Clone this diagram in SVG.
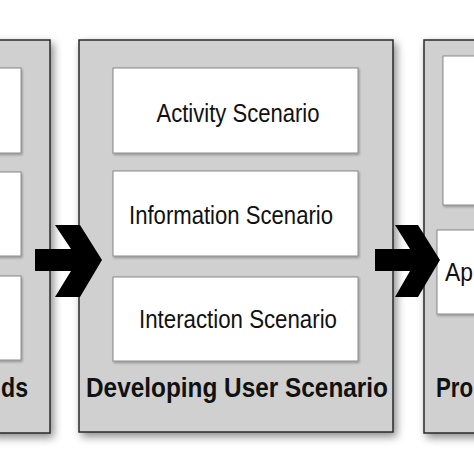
<svg xmlns="http://www.w3.org/2000/svg" width="474" height="474" viewBox="0 0 474 474">
<defs>
<filter id="sh" x="-20%" y="-20%" width="140%" height="140%">
<feDropShadow dx="3" dy="4" stdDeviation="4" flood-color="#000" flood-opacity="0.45"/>
</filter>
<filter id="sh2" x="-20%" y="-20%" width="140%" height="140%">
<feDropShadow dx="1" dy="1.5" stdDeviation="1" flood-color="#000" flood-opacity="0.3"/>
</filter>
</defs>
<style>
.panel{fill:#d0d0d0;stroke:#2a2a2a;stroke-width:1.5;filter:url(#sh)}
.box{fill:#fff;stroke:#8a8a8a;stroke-width:1;filter:url(#sh2)}
.t{font-family:"Liberation Sans",Arial,sans-serif;font-size:25px;fill:#111;text-anchor:middle}
.b{font-family:"Liberation Sans",Arial,sans-serif;font-size:28px;font-weight:bold;fill:#111;text-anchor:middle}
.arrow{fill:#000}
</style>
<rect width="474" height="474" fill="#fff"/>
<g id="panel-left">
<rect class="panel" x="-10" y="40" width="60" height="393"/>
<rect class="box" x="-10" y="68" width="31" height="85"/>
<rect class="box" x="-10" y="172" width="31" height="84"/>
<rect class="box" x="-10" y="276" width="31" height="84"/>
<text class="b" x="28" y="397" style="text-anchor:end" textLength="27" lengthAdjust="spacingAndGlyphs">ds</text>
</g>
<g id="panel-middle">
<rect class="panel" x="79" y="40" width="314" height="392"/>
<g id="activity">
<rect class="box" x="113" y="68" width="245" height="85"/>
<text class="t" x="238" y="122" textLength="163" lengthAdjust="spacingAndGlyphs">Activity Scenario</text>
</g>
<g id="information">
<rect class="box" x="113" y="171" width="245" height="85"/>
<text class="t" x="231" y="224" textLength="204" lengthAdjust="spacingAndGlyphs">Information Scenario</text>
</g>
<g id="interaction">
<rect class="box" x="113" y="277" width="245" height="84"/>
<text class="t" x="238" y="328" textLength="198" lengthAdjust="spacingAndGlyphs">Interaction Scenario</text>
</g>
<text class="b" x="237" y="397" textLength="302" lengthAdjust="spacingAndGlyphs">Developing User Scenario</text>
</g>
<g id="panel-right">
<rect class="panel" x="424" y="40" width="70" height="393"/>
<rect class="box" x="443" y="56" width="50" height="149"/>
<rect class="box" x="437" y="230" width="50" height="84"/>
<text class="t" x="445" y="281" style="text-anchor:start" textLength="28" lengthAdjust="spacingAndGlyphs">Ap</text>
<text class="b" x="436" y="397" style="text-anchor:start" textLength="37" lengthAdjust="spacingAndGlyphs">Pro</text>
</g>
<g id="connectors">
<polygon class="arrow" points="35,249 71,249 55,225 80,225 102,260 80,297 55,297 71,271 35,271"/>
<polygon class="arrow" points="375,249 410,249 395,225 418,225 440,260 418,297 395,297 410,271 375,271"/>
</g>
</svg>
